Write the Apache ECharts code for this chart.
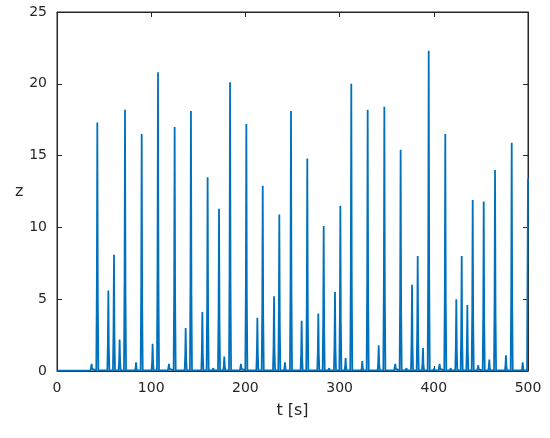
<!DOCTYPE html>
<html><head><meta charset="utf-8">
<script src="https://cdn.jsdelivr.net/npm/echarts@6/dist/echarts.min.js"></script>
<style>html,body{margin:0;padding:0;background:#fff}#c{width:550px;height:438px}</style>
</head><body><div id="c"></div>
<script>
const peakTimes = [36.8,42.8,54.5,60.5,66.5,72.2,83.9,89.9,101.5,107.2,118.9,124.9,136.6,142.2,154.3,159.9,165.9,172,177.6,183.7,195.3,201,207,212.7,218.4,224.5,230.4,236,242,248.4,254,259.7,265.7,271.5,277.4,283.1,289,295.1,300.8,306.4,312.4,318.3,324.1,329.8,341.5,347.5,353.3,359.1,364.8,371,376.9,382.9,388.5,394.6,400.5,406.2,412.2,418,423.9,429.6,435.6,441.3,447.2,453,458.9,465,470.8,476.6,482.7,488.5,494.4];
const peakValues = [0.5,17.3,5.6,8.1,2.2,18.2,0.6,16.5,1.9,20.8,0.5,17,3,18.1,4.1,13.5,0.2,11.3,1.0,20.1,0.5,17.2,0.1,3.7,12.9,0.1,5.2,10.9,0.6,18.1,0.1,3.5,14.8,0.1,4.0,10.1,0.2,5.5,11.5,0.9,20,0.1,0.7,18.2,1.8,18.4,0.1,0.5,15.4,0.2,6.0,8.0,1.6,22.3,0.2,0.5,16.5,0.2,5.0,8.0,4.6,11.9,0.4,11.8,0.8,14.0,0.1,1.1,15.9,0.1,0.6];
const endValue = 13.4;
const xTicks = [0,100,200,300,400,500];
const yTicks = [0,5,10,15,20,25];

const data = [[0,0.02],[30,0.03],[31,0.1],[32,0.03]];
peakTimes.forEach((t,i)=>{
  data.push([t-1.1,0.04]); data.push([t-0.5,peakValues[i]*0.35]); data.push([t,peakValues[i]]); data.push([t+0.5,peakValues[i]*0.3]); data.push([t+1.1,0.04]);
});
data.push([499.0,0.04]); data.push([500,endValue]);

const tk = {inside:true,length:5,lineStyle:{color:'#262626',width:1}};
const ax = {color:'#262626',fontSize:14,fontFamily:'DejaVu Sans'};
const chart = echarts.init(document.getElementById('c'));
chart.setOption({
  animation:false,
  grid:{left:57,right:22,top:12,bottom:67,show:true,borderColor:'#262626',borderWidth:1,outerBoundsMode:'none',containLabel:false},
  xAxis:[{type:'value',min:0,max:500,interval:100,name:'t [s]',nameLocation:'middle',nameGap:32,
    nameTextStyle:{color:'#262626',fontSize:16,fontFamily:'DejaVu Sans'},
    axisLine:{onZero:false,lineStyle:{color:'#262626'}},axisTick:tk,
    axisLabel:Object.assign({margin:10},ax),splitLine:{show:false}},
   {type:'value',position:'top',min:0,max:500,interval:100,axisLine:{onZero:false,lineStyle:{color:'#262626'}},
    axisTick:tk,axisLabel:{show:false},splitLine:{show:false}}],
  yAxis:[{type:'value',min:0,max:25,interval:5,name:'z',nameLocation:'middle',nameGap:32,nameRotate:0,
    nameTextStyle:{color:'#262626',fontSize:16,fontFamily:'DejaVu Sans'},
    axisLine:{show:true,onZero:false,lineStyle:{color:'#262626'}},axisTick:Object.assign({show:true},tk),
    axisLabel:Object.assign({margin:10},ax),splitLine:{show:false}},
   {type:'value',position:'right',min:0,max:25,interval:5,axisLine:{show:true,onZero:false,lineStyle:{color:'#262626'}},
    axisTick:Object.assign({show:true},tk),axisLabel:{show:false},splitLine:{show:false}}],
  series:[{type:'line',data:data,showSymbol:false,lineStyle:{color:'#0072BD',width:1.8},clip:true},
          {type:'line',xAxisIndex:1,yAxisIndex:1,data:[],showSymbol:false}]
});
</script></body></html>
